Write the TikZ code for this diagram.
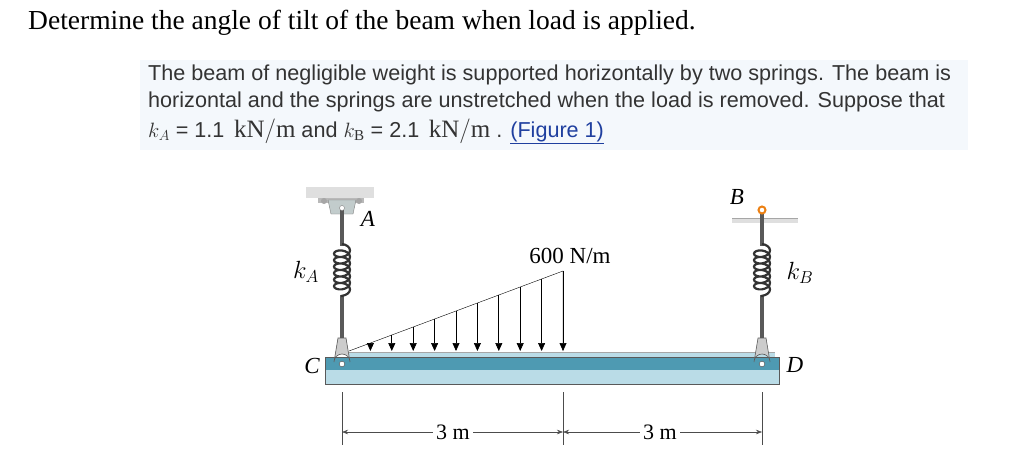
\documentclass[tikz,border=0pt]{standalone}
\usepackage{fontspec}
\setmainfont{Liberation Serif}
\newfontfamily\arialf{Liberation Sans}
\usetikzlibrary{decorations.pathmorphing,arrows.meta}
\definecolor{beamc}{HTML}{8CC4D6}
\definecolor{beamd}{HTML}{4E9AB2}
\definecolor{boxbg}{HTML}{F4F8FC}
\definecolor{txt}{HTML}{333333}
\tikzset{
 lbl/.style={font=\fontsize{23}{23}\selectfont\itshape, inner sep=0},
 dimtxt/.style={font=\fontsize{22}{22}\selectfont, fill=white, inner sep=3pt},
 body/.style={font=\arialf\fontsize{21.6}{24}\selectfont, text=txt, anchor=west, inner sep=0},
 rod/.style={draw=gray!70!black, line width=3.5pt},
 coilst/.style={decorate, decoration={coil, aspect=0.6, segment length=6.5pt, amplitude=8pt}, line width=2.2pt, draw=black!80},
 ld/.style={-{Triangle[length=8pt,width=7pt]}, line width=0.7pt},
 dim/.style={line width=0.5pt, gray!60!black}
}
\begin{document}
\begin{tikzpicture}[x=1pt,y=-1pt]
\useasboundingbox (0,0) rectangle (1024,473);
\fill[white] (0,0) rectangle (1024,473);
\node[anchor=west, inner sep=0, font=\fontsize{27.5}{27.5}\selectfont] (title) at (28,23) {Determine the angle of tilt of the beam when load is applied.};
\fill[boxbg] (140,60) rectangle (968,150);
\node[body] (l1) at (148,75) {The beam of negligible weight is supported horizontally by two springs. The beam is};
\node[body] (l2) at (148,102) {horizontal and the springs are unstretched when the load is removed. Suppose that};
\node[body] (l3) at (148,131) {$k_A$ = 1.1 \,{\fontspec{Liberation Serif}\fontsize{25}{25}\selectfont kN$/$m} and $k_{\mathrm B}$ = 2.1 \,{\fontspec{Liberation Serif}\fontsize{25}{25}\selectfont kN$/$m} . \textcolor[HTML]{1F3F9F}{\underline{(Figure 1)}}};
% ceiling A
\fill[gray!25] (306,187) rectangle (374,198);
\fill[gray!55] (318,198) rectangle (364,203);
\fill[teal!20!gray!40, draw=gray] (328,200) -- (356,200) -- (353,214) -- (331,214) -- cycle;
\fill[gray!70] (324,201) circle (3) (359,201) circle (3);
\node[lbl] (A) at (368,219) {A};
% spring A
\draw[rod] (342,208) -- (342,246);
\draw[rod] (342,295) -- (342,342);
\draw[coilst] (342,244) -- (342,297);
\fill[white, draw=gray] (342,208) circle (2.5);
% B support
\fill[gray!25] (732,218) rectangle (798,223);
\draw[gray!70, line width=0.8pt] (732,218) -- (798,218);
\draw[rod] (762,212) -- (762,246);
\draw[rod] (762,295) -- (762,342);
\draw[coilst] (762,244) -- (762,297);
\draw[orange!70!brown, line width=2pt, fill=white] (762,210) circle (3.5);
\node[lbl] (B) at (737,197) {B};
% beam
\fill[beamc!60] (349,352) rectangle (775,358);
\draw[gray!70] (349,352) -- (775,352);
\fill[beamd] (325,358) rectangle (779,370);
\fill[beamc!60] (325,370) rectangle (779,384);
\draw[gray!70!black, line width=0.6pt] (325,357) rectangle (779,384);
% clevis pins
\foreach \px in {342,762}{
 \fill[gray!40, draw=gray!70!black, line width=0.6pt] (\px-4,338) -- (\px+4,338) -- (\px+8,362) arc (0:-180:8) -- cycle;
 \fill[white, draw=black!70] (\px,364) circle (2.8);
}
\node[lbl] (C) at (312,366) {C};
\node[lbl] (D) at (795,365) {D};
\node[lbl] (kA) at (306,272) {$k_A$};
\node[lbl] (kB) at (800,273) {$k_B$};
% load
\draw[line width=0.4pt] (349,351) -- (563,271) -- (563,351);
\foreach \i in {1,...,10}{
 \pgfmathsetmacro{\xx}{349+\i*21.4}
 \pgfmathsetmacro{\yy}{351-\i*8}
 \draw[ld] (\xx,\yy) -- (\xx,351);
}
\node[font=\fontsize{23}{23}\selectfont, inner sep=0] (q) at (570,256) {600 N/m};
% dimensions
\draw[dim] (342,392) -- (342,445);
\draw[dim] (563,392) -- (563,445);
\draw[dim] (762,392) -- (762,445);
\coordinate (d1) at (342,432);
\coordinate (d2) at (563,432);
\coordinate (d3) at (762,432);
\draw[dim, {Stealth[length=6pt]}-{Stealth[length=6pt]}] (d1) -- (d2);
\draw[dim, {Stealth[length=6pt]}-{Stealth[length=6pt]}] (d2) -- (d3);
\node[dimtxt] (m1) at (453,432) {3 m};
\node[dimtxt] (m2) at (660,432) {3 m};
\end{tikzpicture}
\end{document}
